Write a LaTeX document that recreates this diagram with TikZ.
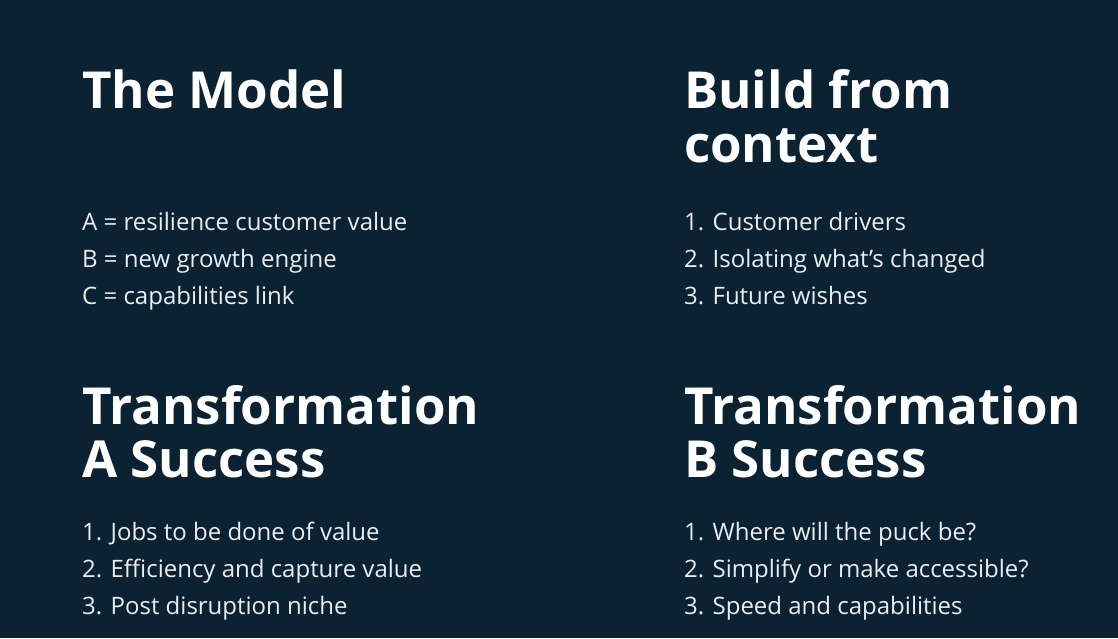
\documentclass[tikz,border=0pt]{standalone}
\usepackage{fontspec}
\setmainfont{Open Sans}
\definecolor{bg}{HTML}{0B2232}
\begin{document}
\begin{tikzpicture}[x=1pt,y=-1pt,
  head/.style={anchor=base west,inner sep=0pt,text=white,font=\fontsize{51}{54}\selectfont\bfseries},
  body/.style={anchor=base west,inner sep=0pt,text=white!92!bg,font=\fontsize{24}{28}\selectfont}]
\fill[bg] (0,0) rectangle (1118,638);
\useasboundingbox (0,0) rectangle (1118,638);
\node[head] (h1) at (82,108) {The Model};
\node[head] (h2a) at (684,108) {Build from};
\node[head] (h2b) at (684,162) {context};
\node[head] (h3a) at (82,424) {Transformation};
\node[head] (h3b) at (82,477) {A Success};
\node[head] (h4a) at (684,424) {Transformation};
\node[head] (h4b) at (684,477) {B Success};
\node[body] (a1) at (82,230) {A = resilience customer value};
\node[body] (a2) at (82,267) {B = new growth engine};
\node[body] (a3) at (82,304) {C = capabilities link};
\node[body] (b1) at (684,230) {1. Customer drivers};
\node[body] (b2) at (684,267) {2. Isolating what’s changed};
\node[body] (b3) at (684,304) {3. Future wishes};
\node[body] (c1) at (82,540) {1. Jobs to be done of value};
\node[body] (c2) at (82,577) {2. Efficiency and capture value};
\node[body] (c3) at (82,614) {3. Post disruption niche};
\node[body] (d1) at (684,540) {1. Where will the puck be?};
\node[body] (d2) at (684,577) {2. Simplify or make accessible?};
\node[body] (d3) at (684,614) {3. Speed and capabilities};
\end{tikzpicture}
\end{document}
